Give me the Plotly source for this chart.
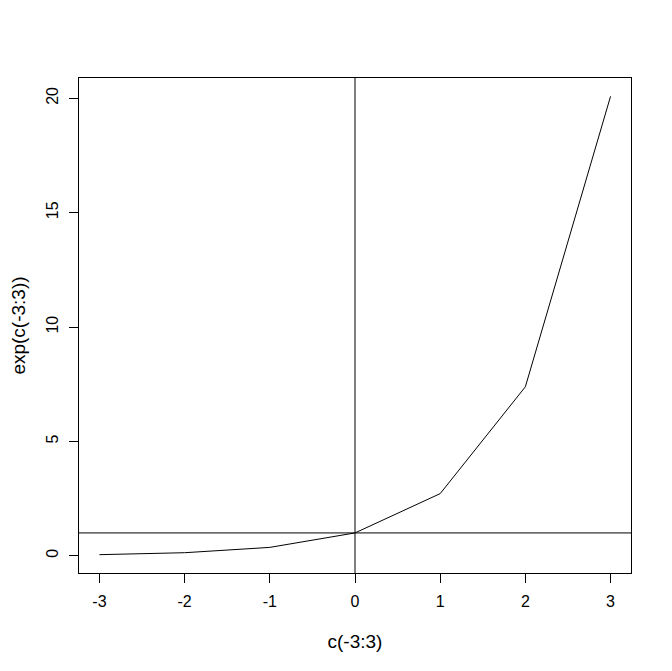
import plotly.graph_objects as go

x_vals = [-3, -2, -1, 0, 1, 2, 3]
y_vals = [0.0498, 0.1353, 0.3679, 1.0, 2.7183, 7.3891, 20.0855]
x_ticks = [-3, -2, -1, 0, 1, 2, 3]
x_tick_labels = ["-3", "-2", "-1", "0", "1", "2", "3"]
y_ticks = [0, 5, 10, 15, 20]
y_tick_labels = ["0", "5", "10", "15", "20"]
h_line = 1
v_line = 0

fig = go.Figure()
fig.add_trace(go.Scatter(x=x_vals, y=y_vals, mode="lines",
                         line=dict(color="black", width=1), showlegend=False))
fig.add_hline(y=h_line, line=dict(color="black", width=1))
fig.add_vline(x=v_line, line=dict(color="black", width=1))

font = dict(family="Liberation Sans, Arial, sans-serif", size=16, color="black")
tickfont = dict(family="Liberation Sans, Arial, sans-serif", size=16, color="black")
fig.update_layout(
    width=672, height=671,
    margin=dict(l=71, r=49, t=70, b=106, autoexpand=False),
    paper_bgcolor="white", plot_bgcolor="white",
    font=font,
    xaxis=dict(range=[-3.24, 3.24], tickvals=x_ticks, ticktext=x_tick_labels,
               ticks="outside", ticklen=9, tickfont=tickfont,
               tickcolor="black", showgrid=False, zeroline=False, showline=True,
               linecolor="black", linewidth=1, mirror=True,
               title=dict(text="c(-3:3)", standoff=25), ticklabelstandoff=5),
    yaxis=dict(range=[-0.7516, 20.887], tickvals=y_ticks, ticktext=y_tick_labels,
               ticks="outside", ticklen=9, tickfont=tickfont,
               tickcolor="black", showgrid=False, zeroline=False, showline=True,
               linecolor="black", linewidth=1, mirror=True, tickangle=-90,
               title=dict(text="exp(c(-3:3))", standoff=27), ticklabelstandoff=5),
)
fig.write_html("out.html")
